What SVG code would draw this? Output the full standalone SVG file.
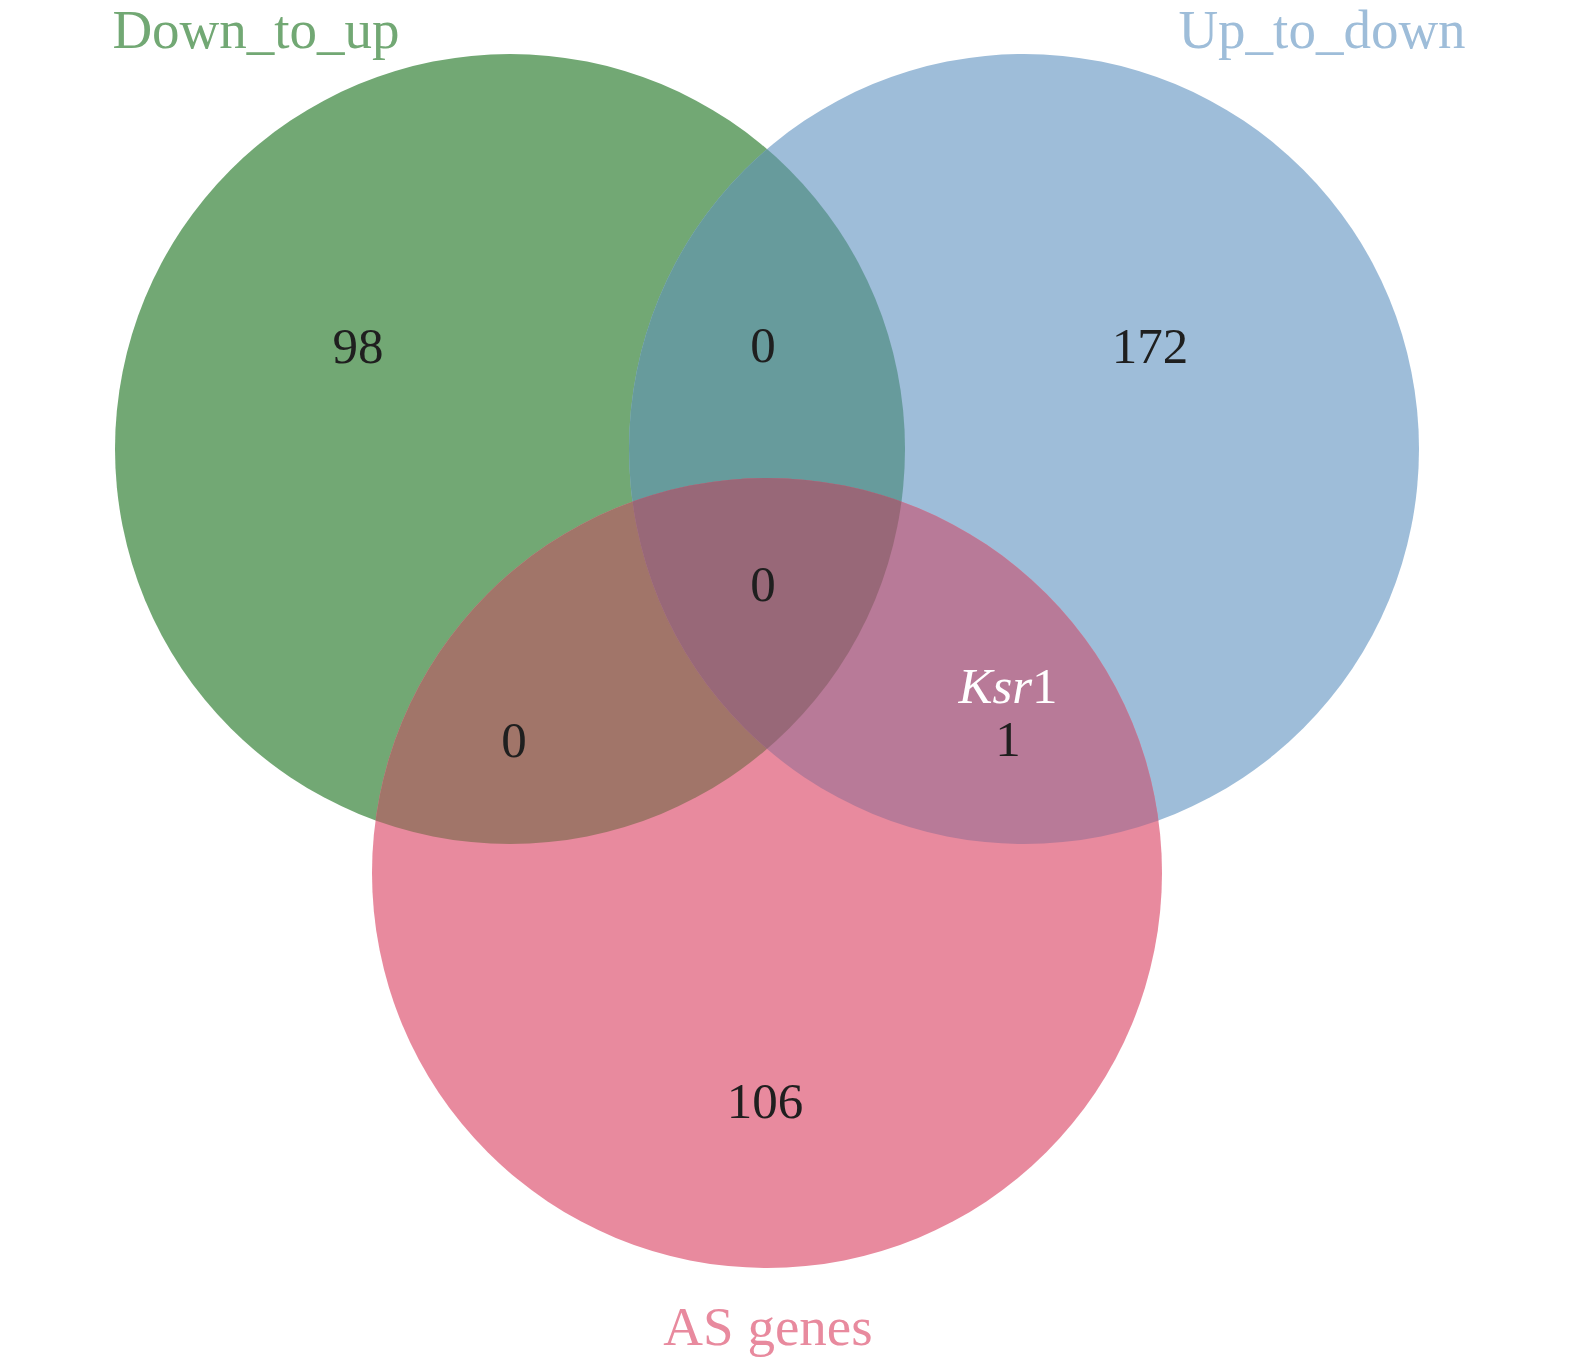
<svg xmlns="http://www.w3.org/2000/svg" width="1575" height="1369" viewBox="0 0 1575 1369">
<style>
.num{font-family:"Liberation Serif",serif;font-size:51px;fill:#1f1f1f;text-anchor:middle}
.lab{font-family:"Liberation Serif",serif;font-size:55px;text-anchor:middle}
</style>
<defs>
<clipPath id="cg"><circle cx="510" cy="449" r="395"/></clipPath>
<clipPath id="cb"><circle cx="1024" cy="449" r="395"/></clipPath>
<clipPath id="cp"><circle cx="767" cy="873" r="395"/></clipPath>
</defs>
<rect width="1575" height="1369" fill="#ffffff"/>
<g id="set-down-to-up">
<circle cx="510" cy="449" r="395" fill="#72a874"/>
</g>
<g id="set-up-to-down">
<circle cx="1024" cy="449" r="395" fill="#9ebdd9"/>
</g>
<g id="set-as-genes">
<circle cx="767" cy="873" r="395" fill="#e88a9e"/>
</g>
<g id="overlaps">
<circle cx="1024" cy="449" r="395" fill="#679b9c" clip-path="url(#cg)"/>
<circle cx="767" cy="873" r="395" fill="#a17569" clip-path="url(#cg)"/>
<circle cx="767" cy="873" r="395" fill="#b87a98" clip-path="url(#cb)"/>
<g clip-path="url(#cg)"><circle cx="767" cy="873" r="395" fill="#986878" clip-path="url(#cb)"/></g>
</g>
<g id="connectors"></g>
<g id="labels">
<text class="lab" x="256" y="48" fill="#72a874">Down_to_up</text>
<text class="lab" x="1322" y="48" fill="#9ebdd9">Up_to_down</text>
<text class="lab" x="768" y="1345" fill="#e88a9e">AS genes</text>
</g>
<g id="counts">
<text class="num" x="358" y="363">98</text>
<text class="num" x="763" y="362">0</text>
<text class="num" x="1150" y="363">172</text>
<text class="num" x="763" y="601">0</text>
<text class="num" x="514" y="757">0</text>
<text class="num" x="1008" y="756">1</text>
<text class="num" x="1008" y="703" style="fill:#ffffff"><tspan font-style="italic">Ksr</tspan>1</text>
<text class="num" x="765" y="1118">106</text>
</g>
</svg>
